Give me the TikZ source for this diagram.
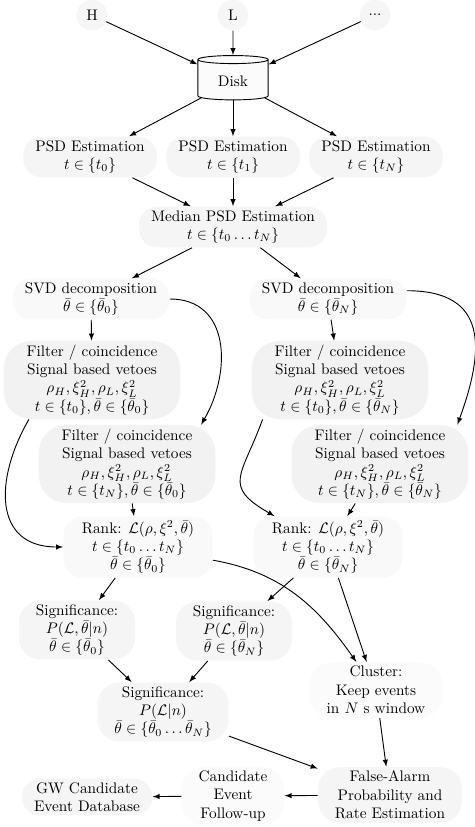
\documentclass[tikz,border=0pt]{standalone}
\usepackage{tikz}
\usetikzlibrary{arrows, positioning, shapes}
\tikzset{
        >=latex, % filled arrow heads
    }
\tikzset{
      gray box/.style={
		fill=gray!8,
		rounded corners=12pt,
		align=center,
		inner xsep=11pt,
		inner ysep=2.5pt,
	  },
      light box/.style={gray box, fill=gray!5},
      pale box/.style={gray box, fill=gray!3},
      filter box/.style={gray box, fill=gray!10, rounded corners=18pt, inner xsep=15pt},
      detector/.style={circle, fill=gray!7, minimum size=20pt, inner sep=0pt},
      disk/.style={
		cylinder,
		shape border rotate=90,
		aspect=0.2,
		draw,
		fill=gray!3,
		minimum width=46pt,
		minimum height=29pt,
	  },
  	}

\begin{document}
\begin{tikzpicture}[x=0.654pt, y=-0.654pt, line width=0.6pt]
    \useasboundingbox (0,0) rectangle (474,827);
    % detectors and storage
    \node [detector] (H) at (92,15) {H};
    \node [detector] (L) at (233,15) {L};
    \node [detector] (more) at (375,15) {...};
    \node [disk] (disk) at (233,81) {Disk};
    % PSD
    \node [gray box, inner xsep=8pt] (psd0) at (90,157) {PSD Estimation\\$t \in \{t_0\}$};
    \node [gray box, inner xsep=8pt] (psd1) at (233,157) {PSD Estimation\\$t \in \{t_1\}$};
    \node [gray box, inner xsep=8pt] (psdN) at (376,157) {PSD Estimation\\$t \in \{t_N\}$};
    \node [gray box, inner xsep=8pt] (median) at (233,227) {Median PSD Estimation\\$t \in \{t_0 \ldots t_N\}$};
    % template banks
    \node [light box, inner xsep=8pt] (svd0) at (91,299) {SVD decomposition\\$\bar\theta \in \{\bar\theta_0\}$};
    \node [light box, inner xsep=8pt] (svdN) at (328,299) {SVD decomposition\\$\bar\theta \in \{\bar\theta_N\}$};
    \node [filter box] (f00) at (92,380) {Filter / coincidence\\Signal based vetoes\\$\rho_H, \xi^2_H, \rho_L, \xi^2_L$\\$t \in \{t_0\}, \bar\theta \in \{\bar\theta_0\}$};
    \node [filter box] (f0N) at (340,380) {Filter / coincidence\\Signal based vetoes\\$\rho_H, \xi^2_H, \rho_L, \xi^2_L$\\$t \in \{t_0\}, \bar\theta \in \{\bar\theta_N\}$};
    \node [filter box] (fN0) at (127,464) {Filter / coincidence\\Signal based vetoes\\$\rho_H, \xi^2_H, \rho_L, \xi^2_L$\\$t \in \{t_N\}, \bar\theta \in \{\bar\theta_0\}$};
    \node [filter box] (fNN) at (380,464) {Filter / coincidence\\Signal based vetoes\\$\rho_H, \xi^2_H, \rho_L, \xi^2_L$\\$t \in \{t_N\}, \bar\theta \in \{\bar\theta_N\}$};
    % ranking and significance
    \node [light box, inner xsep=12pt] (rank0) at (138,547) {Rank: $\mathcal{L}(\rho, \xi^2, \bar\theta)$\\$t \in \{t_0 \ldots t_N\}$\\$\bar\theta \in \{\bar\theta_0\}$};
    \node [light box, inner xsep=12pt] (rankN) at (328,547) {Rank: $\mathcal{L}(\rho, \xi^2, \bar\theta)$\\$t \in \{t_0 \ldots t_N\}$\\$\bar\theta \in \{\bar\theta_N\}$};
    \node [gray box, rounded corners=14pt] (sig0) at (77,630) {Significance:\\$P(\mathcal{L}, \bar\theta | n)$\\$\bar\theta \in \{\bar\theta_0\}$};
    \node [gray box, rounded corners=14pt] (sigN) at (234,631) {Significance:\\$P(\mathcal{L}, \bar\theta | n)$\\$\bar\theta \in \{\bar\theta_N\}$};
    \node [gray box, rounded corners=14pt] (sigall) at (163,712) {Significance:\\$P(\mathcal{L} | n)$\\$\bar\theta \in \{\bar\theta_0 \ldots \bar\theta_N\}$};
    \node [pale box, rounded corners=14pt] (cluster) at (376,690) {Cluster:\\Keep events\\in $N$ s window};
    % output
    \node [gray box, rounded corners=14pt] (fap) at (390,795) {False-Alarm\\Probability and\\Rate Estimation};
    \node [pale box, rounded corners=14pt] (followup) at (233,796) {Candidate\\Event\\Follow-up};
    \node [gray box, inner xsep=8pt] (gwdb) at (87,797) {GW Candidate\\Event Database};

    \draw[->] (H) -- (disk);
    \draw[->] (L) -- (disk);
    \draw[->] (more) -- (disk);
    \foreach \n in {psd0, psd1, psdN} {
        \draw[->] (disk) -- (\n);
        \draw[->] (\n) -- (median);
    }
    \draw[->] (median) -- (svd0);
    \draw[->] (median) -- (svdN);
    \draw[->] (svd0) -- (f00);
    \draw[->] (svdN) -- (f0N);
    \draw[->] (svd0.east) to[out=0, in=60, looseness=1.2] (fN0.28);
    \draw[->] (svdN.6) to[out=0, in=70, looseness=1.45] (fNN.27);
    \draw[->] (f00.212) to[out=240, in=180, looseness=1.35] (rank0);
    \draw[->] (f0N.207) to[out=250, in=150, looseness=1.6] (rankN);
    \draw[->] (fN0) -- (rank0);
    \draw[->] (fNN) -- (rankN);
    \draw[->] (rank0) -- (sig0);
    \draw[->] (rankN) -- (sigN);
    \draw[->] (rank0) to[out=-10, in=125] (cluster);
    \draw[->] (rankN) -- (cluster);
    \draw[->] (sig0) -- (sigall);
    \draw[->] (sigN) -- (sigall);
    \draw[->] (sigall) -- (fap);
    \draw[->] (cluster) -- (fap);
    \draw[->] (fap) -- (followup);
    \draw[->] (followup) -- (gwdb);
  \end{tikzpicture}
\end{document}
